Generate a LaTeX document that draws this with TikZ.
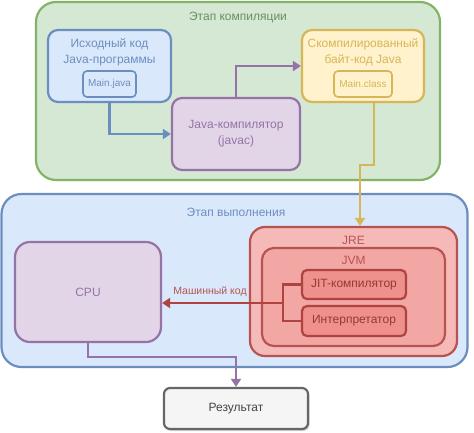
\documentclass[tikz,border=0pt]{standalone}
\usepackage{fontspec}
\setmainfont{Liberation Sans}
\usetikzlibrary{arrows.meta,shadows}
\definecolor{gfill}{HTML}{D5E8D4}\definecolor{gline}{HTML}{82B366}\definecolor{gtext}{HTML}{6A8F5E}
\definecolor{bfill}{HTML}{DAE8FC}\definecolor{bline}{HTML}{6C8EBF}
\definecolor{pfill}{HTML}{E1D5E7}\definecolor{pline}{HTML}{9673A6}
\definecolor{yfill}{HTML}{FFF2CC}\definecolor{yline}{HTML}{D6B656}
\definecolor{rline}{HTML}{B85450}\definecolor{rarrow}{HTML}{AE4340}
\definecolor{jrefill}{HTML}{F5BAB8}\definecolor{jvmfill}{HTML}{F2A7A5}\definecolor{jitfill}{HTML}{EF908D}
\definecolor{resfill}{HTML}{F5F5F5}\definecolor{resline}{HTML}{666666}\definecolor{restext}{HTML}{444444}
\tikzset{
  box/.style={draw, line width=2.2pt, inner sep=0pt, align=center, font=\fontsize{12}{16}\selectfont},
  small/.style={font=\fontsize{10}{12}\selectfont},
  lbl/.style={inner sep=0pt, font=\fontsize{12}{16}\selectfont},
  conn/.style={line width=2.8pt, -{Triangle[length=8pt,width=10pt]}},
}
\begin{document}
\begin{tikzpicture}[x=1pt,y=-1pt]
\useasboundingbox (0,0) rectangle (474,432);
% compilation stage
\node[box, fill=gfill, draw=gline, rounded corners=20pt, minimum width=404pt, minimum height=178pt] (comp stage) at (238,91) {};
\node[lbl, text=gtext] (comp label) at (238,18) {Этап компиляции};
\node[box, fill=bfill, draw=bline, rounded corners=10pt, minimum width=123pt, minimum height=72pt] (src) at (109.5,66) {};
\node[lbl, align=center, text=bline] (src text) at (109.5,52) {Исходный код\\Java-программы};
\node[box, small, fill=bfill, draw=bline, line width=1.6pt, rounded corners=4pt, minimum width=53pt, minimum height=26pt, text=bline] (mainjava) at (109.5,84) {Main.java};
\node[box, fill=pfill, draw=pline, rounded corners=10pt, minimum width=128pt, minimum height=72pt, text=pline] (javac) at (236,134) {Java-компилятор\\(javac)};
\node[box, fill=yfill, draw=yline, rounded corners=10pt, minimum width=122pt, minimum height=72pt] (byte) at (363,66) {};
\node[lbl, align=center, text=yline] (byte text) at (363,52) {Скомпилированный\\байт-код Java};
\node[box, small, fill=yfill, draw=yline, line width=1.6pt, rounded corners=4pt, minimum width=58pt, minimum height=26pt, text=yline] (mainclass) at (363,84) {Main.class};
% execution stage
\node[box, fill=bfill, draw=bline, rounded corners=20pt, minimum width=466pt, minimum height=173pt] (exec stage) at (234.5,280.5) {};
\node[lbl, text=bline] (exec label) at (236,212) {Этап выполнения};
\node[box, fill=jrefill, draw=rline, rounded corners=15pt, minimum width=207pt, minimum height=129pt] (jre) at (353.5,291.5) {};
\node[lbl, text=rline] (jre label) at (353.5,240) {JRE};
\node[box, fill=jvmfill, draw=rline, rounded corners=12pt, minimum width=183pt, minimum height=98pt] (jvm) at (353.5,297) {};
\node[lbl, text=rline] (jvm label) at (353.5,260) {JVM};
\node[box, fill=jitfill, draw=rarrow, rounded corners=5pt, minimum width=104pt, minimum height=29pt, text=rarrow!85!black] (jit) at (354,284.5) {JIT-компилятор};
\node[box, fill=jitfill, draw=rarrow, rounded corners=5pt, minimum width=104pt, minimum height=30pt, text=rarrow!85!black] (interp) at (354,321) {Интерпретатор};
\node[box, fill=pfill, draw=pline, rounded corners=15pt, minimum width=146pt, minimum height=100pt, text=pline] (cpu) at (88,292) {CPU};
\node[box, fill=resfill, draw=resline, rounded corners=6pt, minimum width=144pt, minimum height=41pt, text=restext, drop shadow={shadow xshift=1.5pt, shadow yshift=-2pt, opacity=0.35}] (result) at (236,408.5) {Результат};
% connectors
\draw[conn, draw=bline] (src.south) |- (javac.west);
\draw[conn, draw=pline] (javac.north) |- (byte.west);
\coordinate (byte out) at (374,102);
\coordinate (jog) at (360,165);
\draw[conn, draw=yline] (byte out) |- (jog) -- (jog |- jre.north);
\coordinate (fork) at (283,303);
\draw[line width=2.8pt, draw=rarrow] (jit.west) -| (fork) |- (interp.west);
\draw[conn, draw=rarrow] (fork) -- (fork -| cpu.east);
\node[inner sep=0pt, text=rline, font=\fontsize{10.5}{12}\selectfont] (mc label) at (210,292) {Машинный код};
\coordinate (cpu turn) at (88,357);
\draw[conn, draw=pline] (cpu.south) |- (cpu turn -| result.north) -- (result.north);
\end{tikzpicture}
\end{document}
